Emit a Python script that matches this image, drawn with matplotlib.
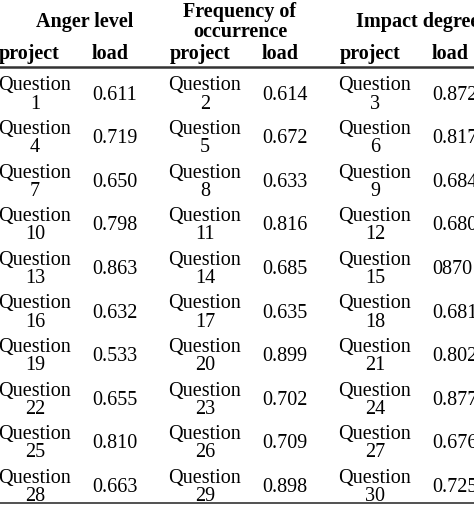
import matplotlib
matplotlib.use("Agg")
import matplotlib.pyplot as plt

groups = ["Anger level", "Frequency of\noccurrence", "Impact degree"]
questions = [[1, 4, 7, 10, 13, 16, 19, 22, 25, 28],
             [2, 5, 8, 11, 14, 17, 20, 23, 26, 29],
             [3, 6, 9, 12, 15, 18, 21, 24, 27, 30]]
loads = [["0.611", "0.719", "0.650", "0.798", "0.863", "0.632", "0.533", "0.655", "0.810", "0.663"],
         ["0.614", "0.672", "0.633", "0.816", "0.685", "0.635", "0.899", "0.702", "0.709", "0.898"],
         ["0.872", "0.817", "0.684", "0.680", "0870", "0.681", "0.802", "0.877", "0.676", "0.725"]]

W, H = 474, 506
fig = plt.figure(figsize=(W / 100, H / 100), dpi=100)
ax = fig.add_axes([0, 0, 1, 1])
ax.set_xlim(0, W)
ax.set_ylim(H, 0)
ax.axis("off")
font = "Liberation Serif"
fs = 14.5

header_cx = [85, 240, 418]
q_cx = [35, 205, 375]
proj_x = [-1, 170, 340]
load_x = [92, 262, 432]

for g in range(3):
    ax.text(header_cx[g], 22, groups[g], ha="center", va="center", family=font,
            fontsize=fs, fontweight="bold", linespacing=1.0)
    ax.text(proj_x[g], 54, "project", ha="left", va="center", family=font,
            fontsize=fs, fontweight="bold")
    ax.text(load_x[g], 54, "load", ha="left", va="center", family=font,
            fontsize=fs, fontweight="bold")
    for i in range(10):
        y = 95 + i * 43.6
        ax.text(q_cx[g], y, f"Question\n{questions[g][i]}", ha="center", va="center",
                family=font, fontsize=fs, linespacing=0.95)
        ax.text(load_x[g], y, loads[g][i], ha="left", va="center", family=font, fontsize=fs)

ax.plot([0, W], [67.5, 67.5], color="#333333", lw=1.8)
ax.plot([0, W], [504, 504], color="#333333", lw=1.2)

fig.savefig("out.png", dpi=100)
